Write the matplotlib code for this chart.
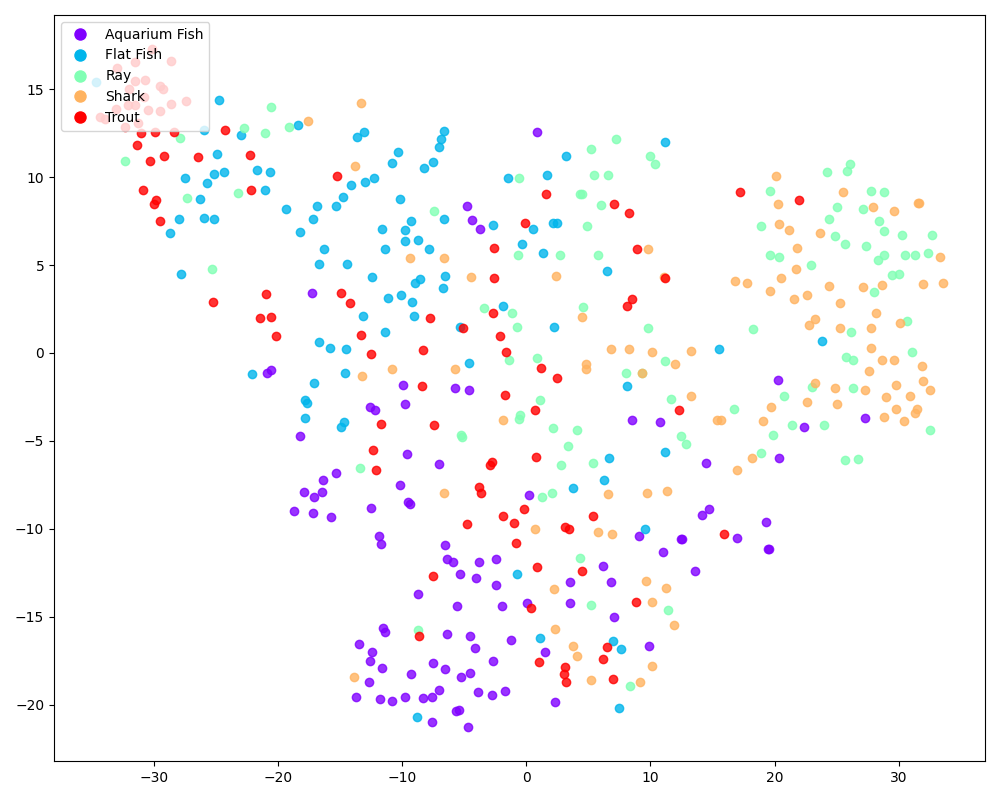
import matplotlib
matplotlib.use('Agg')
import matplotlib.pyplot as plt
from matplotlib.lines import Line2D
import numpy as np

class_names = ['Aquarium Fish', 'Flat Fish', 'Ray', 'Shark', 'Trout']

aquarium_x = [0.9, -4.8, -4.4, -3.7, -17.3, -20.6, -20.9, -9.9, -5.75, -4.6, -9.8, -12.6, -12.2, -18.2, -9.6, -7.05,
              -15.3, -16.4, -17.9, -16.5, -17.1, -18.7, -17.2, -15.7, -10.2, -9.5, -9.4, -12.5, -11.9, -11.7, -6.55,
              -6.4, -5.9, -3.8, -2.45, -5.35, -4.05, -2.45, -8.75, -5.6, -1.95, 0.05, 3.5, 6.15, 6.8, 3.5, 7.1, 9.05,
              11.0, -11.55, -11.4, -6.4, -4.5, -1.25, -4.15, -13.5, -12.45, -12.6, -11.65, 1.5, -2.7, -7.55, -6.55,
              -9.3, -5.3, -4.55, -12.7, -7.05, -3.9, -1.75, -2.8, -13.75, -11.8, -10.85, -9.8, -8.35, -7.6, 2.35,
              -5.7, -5.45, -7.6, -4.7, 9.85, 8.55, 10.75, 14.45, 0.2, 14.15, 14.7, 12.45, 12.55, 17.0, 13.6, 20.25,
              22.35, 27.3, 20.35, 19.3, 19.45, 19.55]
aquarium_y = [12.6, 8.35, 7.55, 7.05, 3.4, -0.95, -1.15, -1.8, -1.97, -2.1, -2.9, -3.1, -3.25, -4.75, -5.75, -6.3,
              -6.8, -7.2, -7.9, -7.9, -8.2, -9.0, -9.1, -9.35, -7.5, -8.45, -8.6, -8.8, -10.4, -10.85, -10.9,
              -11.7, -11.9, -11.9, -11.7, -12.6, -12.8, -13.2, -13.7, -14.4, -14.4, -14.2, -13.05, -12.1, -13.05,
              -14.25, -15.0, -10.4, -11.3, -15.65, -15.85, -16.0, -16.1, -16.35, -16.8, -16.55, -17.0, -17.5, -17.9,
              -17.0, -17.55, -17.65, -18.0, -18.25, -18.45, -18.2, -18.7, -19.2, -19.3, -19.25, -19.45, -19.55,
              -19.7, -19.8, -19.6, -19.65, -19.6, -19.85, -20.35, -20.3, -21.0, -21.3, -16.65, -3.8, -3.95, -6.25,
              -8.1, -9.2, -8.85, -10.6, -10.6, -10.5, -12.4, -1.55, -4.2, -3.7, -6.0, -9.6, -11.15, -11.15]

flat_x = [-34.65, -24.75, -25.95, -23.0, -18.4, -24.9, -13.65, -13.1, -27.5, -25.15, -24.35, -25.75, -21.7, -20.65,
          -21.05, -26.3, -19.4, -25.95, -25.2, -28.0, -28.7, -18.25, -17.2, -16.85, -15.35, -14.8, -14.1, -13.0,
          -16.3, -16.7, -14.45, -27.8, -6.65, -6.9, -7.05, -10.35, -10.85, -8.25, -7.55, -12.3, -10.2, -1.5, 1.65,
          3.2, 11.2, -6.65, -9.3, -11.6, -9.8, -9.8, -8.75, -11.4, -7.85, -2.7, 0.5, 2.15, 2.45, -0.35, 1.35, 6.5,
          -12.45, -6.55, -8.55, -9.0, -6.7, -11.15, -10.1, -9.2, -1.9, -13.15, -9.05, 2.2, -11.4, -5.35, -4.6,
          -16.7, -15.8, -14.5, -22.1, -17.1, -14.6, -17.85, -17.7, -17.85, -14.7, -14.95, 15.5, 8.15, 11.2, 6.7,
          6.3, 3.8, 9.55, -0.75, 1.1, 6.95, 7.6, 7.45, -8.8, 23.85]
flat_y = [15.4, 14.4, 12.7, 12.4, 12.95, 11.3, 12.3, 12.6, 9.95, 10.2, 10.3, 9.65, 10.4, 10.3,
          9.25, 8.75, 8.2, 7.7, 7.65, 7.6, 6.85, 6.9, 7.65, 8.35, 8.35, 8.9, 9.55, 9.75,
          5.9, 5.05, 5.05, 4.5, 12.65, 12.2, 11.7, 11.45, 10.8, 10.55, 10.85, 9.95, 8.75, 9.95, 10.15,
          11.2, 12.0, 7.65, 7.5, 7.05, 7.0, 6.4, 6.45, 5.9, 5.9, 7.3, 7.05, 7.4, 7.4, 6.2, 5.7, 4.65,
          4.3, 4.4, 4.2, 4.0, 3.7, 3.15, 3.3, 2.9, 2.7, 2.1, 2.1, 1.5, 1.2, 1.5, -0.55,
          0.65, 0.3, 0.25, -1.2, -1.7, -1.15, -2.7, -2.85, -3.7, -3.9, -4.2, 0.25, -1.9, -5.65, -6.0,
          -7.2, -7.7, -10.0, -12.6, -16.2, -16.4, -16.85, -20.2, -20.7, 0.7]

ray_x = [-20.6, -22.75, -21.05, -19.1, -27.9, -32.35, -27.35, -23.2, -25.35, -7.45, -0.6, 5.2, 7.2, 9.95, 10.4, 5.45,
         6.55, 4.3, 4.45, 6.0, 4.9, -0.7, 2.7, 5.75, -3.4, -1.15, -0.75, 4.55, 9.8, -1.4, 0.85, 11.2, 8.0, 9.3,
         11.65, 16.7, 1.1, -0.5, -0.6, 2.15, 4.1, 3.35, 2.8, 5.4, 12.45, 12.9, 1.25, 2.05, 4.3, 5.2, 11.4, -8.75,
         8.35, -13.4, -5.3, -5.2, 26.1, 24.2, 25.8, 19.6, 27.75, 28.8, 25.0, 27.1, 24.35, 28.45, 28.8, 18.95, 30.3,
         32.65, 24.85, 25.65, 27.35, 19.6, 20.35, 28.3, 28.85, 30.55, 31.35, 32.4, 22.9, 29.5, 30.05, 28.0, 18.3,
         30.7, 26.15, 25.75, 26.35, 31.05, 23.05, 26.35, 20.8, 21.4, 23.95, 19.85, 32.5, 18.9, 25.65, 26.75]
ray_y = [14.0, 12.8, 12.5, 12.85, 12.25, 10.95, 8.8, 9.1, 4.8, 8.05, 9.95, 11.6, 12.2, 11.2, 10.75, 10.15,
         10.15, 9.05, 9.05, 8.4, 7.25, 5.6, 5.55, 5.6, 2.55, 2.3, 1.5, 2.6, 1.45, -0.4, -0.3, -0.45, -1.15, -1.15,
         -2.6, -3.2, -2.7, -3.5, -3.75, -4.25, -4.4, -5.3, -6.4, -6.25, -4.75, -5.15, -8.2, -7.95, -11.65, -14.35,
         -14.65, -15.75, -18.95, -6.55, -4.65, -4.8, 10.75, 10.3, 10.35, 9.2, 9.2, 9.15, 8.3, 8.2, 7.65, 7.5, 6.95,
         7.2, 6.7, 6.7, 6.65, 6.2, 6.1, 5.55, 5.45, 5.3, 5.55, 5.55, 5.55, 5.7, 5.0, 4.45, 4.5, 3.45, 1.35,
         1.8, 1.2, -0.2, -0.4, 0.05, -1.95, -2.0, -2.45, -4.1, -4.1, -4.65, -4.4, -5.7, -6.1, -6.05]

shark_x = [-13.3, -17.6, -13.8, -9.4, -6.65, -4.45, 2.4, 4.45, 9.8, 11.1, 6.8, 8.3, 10.15, -10.85, -13.25, -5.75,
           -1.9, -6.65, 4.8, 4.8, 11.95, 13.25, 13.3, 15.4, 15.7, 17.0, 6.55, 9.7, 11.3, 0.7, 5.75, 6.9, 9.3, 2.2,
           9.65, 11.25, 10.1, 2.3, 3.75, 4.1, -13.9, 10.1, 5.2, 9.15, 11.9, 20.1, 25.55, 20.25, 31.55, 31.65, 27.95,
           29.65, 20.35, 21.15, 23.65, 21.85, 33.35, 21.7, 16.85, 17.75, 20.5, 19.6, 21.6, 22.65, 24.35, 27.15,
           28.7, 32.0, 33.55, 25.3, 28.15, 23.25, 22.75, 25.3, 27.75, 30.15, 27.75, 28.7, 29.6, 31.9, 27.6, 23.3,
           32.0, 29.75, 32.55, 24.9, 27.3, 29.0, 30.95, 22.6, 25.0, 19.7, 29.75, 31.5, 31.3, 28.85, 30.4, 19.1, 18.15]
shark_y = [14.25, 13.2, 10.65, 5.4, 5.4, 4.3, 4.4, 2.05, 5.9, 4.3, 0.2, 0.2, 0.05, -0.9, -1.3, -0.9,
           -3.8, -7.95, -0.65, -0.9, -0.65, 0.1, -2.45, -3.8, -3.8, -6.65, -8.05, -7.95, -7.85, -10.0, -10.2, -10.3,
           -1.15, -13.4, -12.95, -13.35, -14.15, -15.7, -16.65, -17.25, -18.45, -17.8, -18.6, -18.7, -15.5, 10.05,
           9.15, 8.45, 8.55, 8.55, 8.3, 8.05, 7.35, 7.0, 6.85, 5.95, 5.45, 4.8, 4.1, 4.0, 4.25, 3.55, 3.05, 3.3,
           3.8, 3.75, 3.85, 3.9, 4.0, 2.85, 2.3, 1.95, 1.6, 1.45, 1.45, 1.7, 0.3, -0.4, -0.4, -0.75, -1.05, -1.7,
           -1.6, -1.8, -2.1, -2.0, -2.1, -2.5, -2.45, -2.8, -2.9, -3.1, -3.2, -3.2, -3.4, -3.65, -3.85, -3.85, -5.95]

trout_x = [-30.15, -28.6, -31.5, -32.95, -31.5, -30.7, -29.5, -29.25, -32.0, -30.8, -27.4, -33.05, -32.1, -31.5, -30.5,
           -29.55, -28.6, -34.35, -33.95, -31.3, -32.3, -31.05, -29.9, -28.4, -31.35, -30.3, -29.2, -26.45, -24.3,
           -22.25, -22.15, -15.25, -30.9, -29.85, -30.0, -29.5, 1.55, 7.05, 8.25, -0.1, 8.95, -2.6, -2.6, 11.15, 8.5,
           8.1, -7.75, -2.7, -5.1, -13.3, -2.15, -14.2, -8.3, -12.55, -1.6, -20.95, -25.25, -14.9, -21.45, -20.6,
           -20.15, -1.75, -7.45, -8.4, -11.7, -12.35, -12.1, -2.8, -2.9, -3.8, -3.65, -4.8, -1.9, -1.0, -0.85, 1.15,
           2.5, 0.7, 12.3, 0.8, -0.2, 3.15, 3.45, 5.4, 15.9, 0.85, 4.45, -7.55, 0.35, 8.8, -8.65, 6.5, 6.15, 1.0,
           3.1, 3.0, 3.2, 6.95, 17.25, 22.0]
trout_y = [17.3, 16.6, 16.55, 16.2, 15.5, 15.55, 15.2, 15.0, 15.0, 14.55, 14.35, 13.9, 14.1, 14.1, 13.8,
           13.75, 14.15, 13.45, 13.3, 13.1, 12.85, 12.5, 12.6, 12.55, 11.85, 10.95, 11.2, 11.15, 12.7,
           11.25, 9.3, 10.05, 9.3, 8.7, 8.45, 7.5, 9.05, 8.45, 7.95, 7.4, 5.9, 5.95, 4.25, 4.25, 3.1,
           2.65, 2.0, 2.25, 1.4, 1.0, 0.95, 2.85, 0.15, -0.05, 0.05, 3.35, 2.9, 3.4, 2.0, 2.05,
           0.95, -2.4, -4.1, -1.85, -4.05, -5.5, -6.65, -6.2, -6.4, -7.6, -7.95, -9.75, -9.25, -9.7, -10.8, -0.85,
           -1.4, -3.25, -3.25, -5.9, -8.85, -9.9, -10.0, -9.25, -10.3, -12.15, -12.4, -12.7, -14.5, -14.15, -16.1,
           -16.7, -17.4, -17.6, -17.85, -18.25, -18.7, -18.55, 9.15, 8.7]

series = [(aquarium_x, aquarium_y), (flat_x, flat_y), (ray_x, ray_y), (shark_x, shark_y), (trout_x, trout_y)]
colors = plt.cm.rainbow(np.linspace(0, 1, len(class_names)))

fig, ax = plt.subplots(figsize=(10, 8))
for (xs, ys), c in zip(series, colors):
    ax.scatter(xs, ys, color=c, alpha=0.8)

handles = [Line2D([0], [0], marker='o', color='w', markerfacecolor=c, markersize=10, label=name)
           for name, c in zip(class_names, colors)]
ax.legend(handles=handles, loc='upper left')

plt.tight_layout()
plt.savefig('out.png', dpi=100)
